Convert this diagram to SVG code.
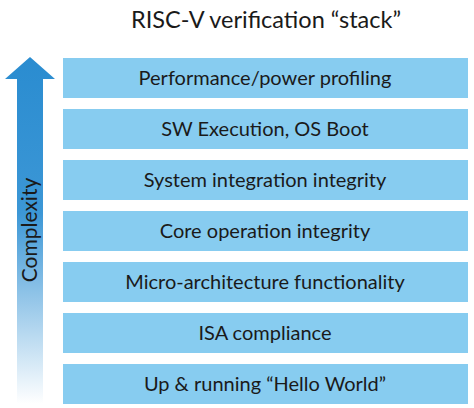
<svg xmlns="http://www.w3.org/2000/svg" width="474" height="408" viewBox="0 0 474 408">
<defs>
<linearGradient id="ag" x1="0" y1="0" x2="0" y2="1">
<stop offset="0" stop-color="#2A8CD0"/>
<stop offset="0.45" stop-color="#3C97D6"/>
<stop offset="1" stop-color="#FFFFFF"/>
</linearGradient>
</defs>
<style>
.box{fill:#87CCF0}
.t{font-family:Lato,"Open Sans",sans-serif;font-size:20px;fill:#1a1a1a;text-anchor:middle}
</style>
<rect width="474" height="408" fill="#fff"/>
<text x="266" y="28" class="t" style="font-size:23.5px">RISC-V verification “stack”</text>
<g id="arrow">
<path d="M17,79 L5,79 L30,57 L55,79 L43,79 L43,404 L17,404 Z" fill="url(#ag)"/>
<text transform="translate(37,230) rotate(-90)" class="t" style="font-size:21px">Complexity</text>
</g>
<g id="n1"><rect class="box" x="63" y="58" width="405" height="40"/><text class="t" x="265" y="85">Performance/power profiling</text></g>
<g id="n2"><rect class="box" x="63" y="109" width="405" height="40"/><text class="t" x="265" y="136">SW Execution, OS Boot</text></g>
<g id="n3"><rect class="box" x="63" y="160" width="405" height="40"/><text class="t" x="265" y="187">System integration integrity</text></g>
<g id="n4"><rect class="box" x="63" y="211" width="405" height="40"/><text class="t" x="265" y="238">Core operation integrity</text></g>
<g id="n5"><rect class="box" x="63" y="262" width="405" height="40"/><text class="t" x="265" y="289">Micro-architecture functionality</text></g>
<g id="n6"><rect class="box" x="63" y="313" width="405" height="40"/><text class="t" x="265" y="340">ISA compliance</text></g>
<g id="n7"><rect class="box" x="63" y="364" width="405" height="40"/><text class="t" x="265" y="391">Up &amp; running “Hello World”</text></g>
<g id="connectors"/>
</svg>
